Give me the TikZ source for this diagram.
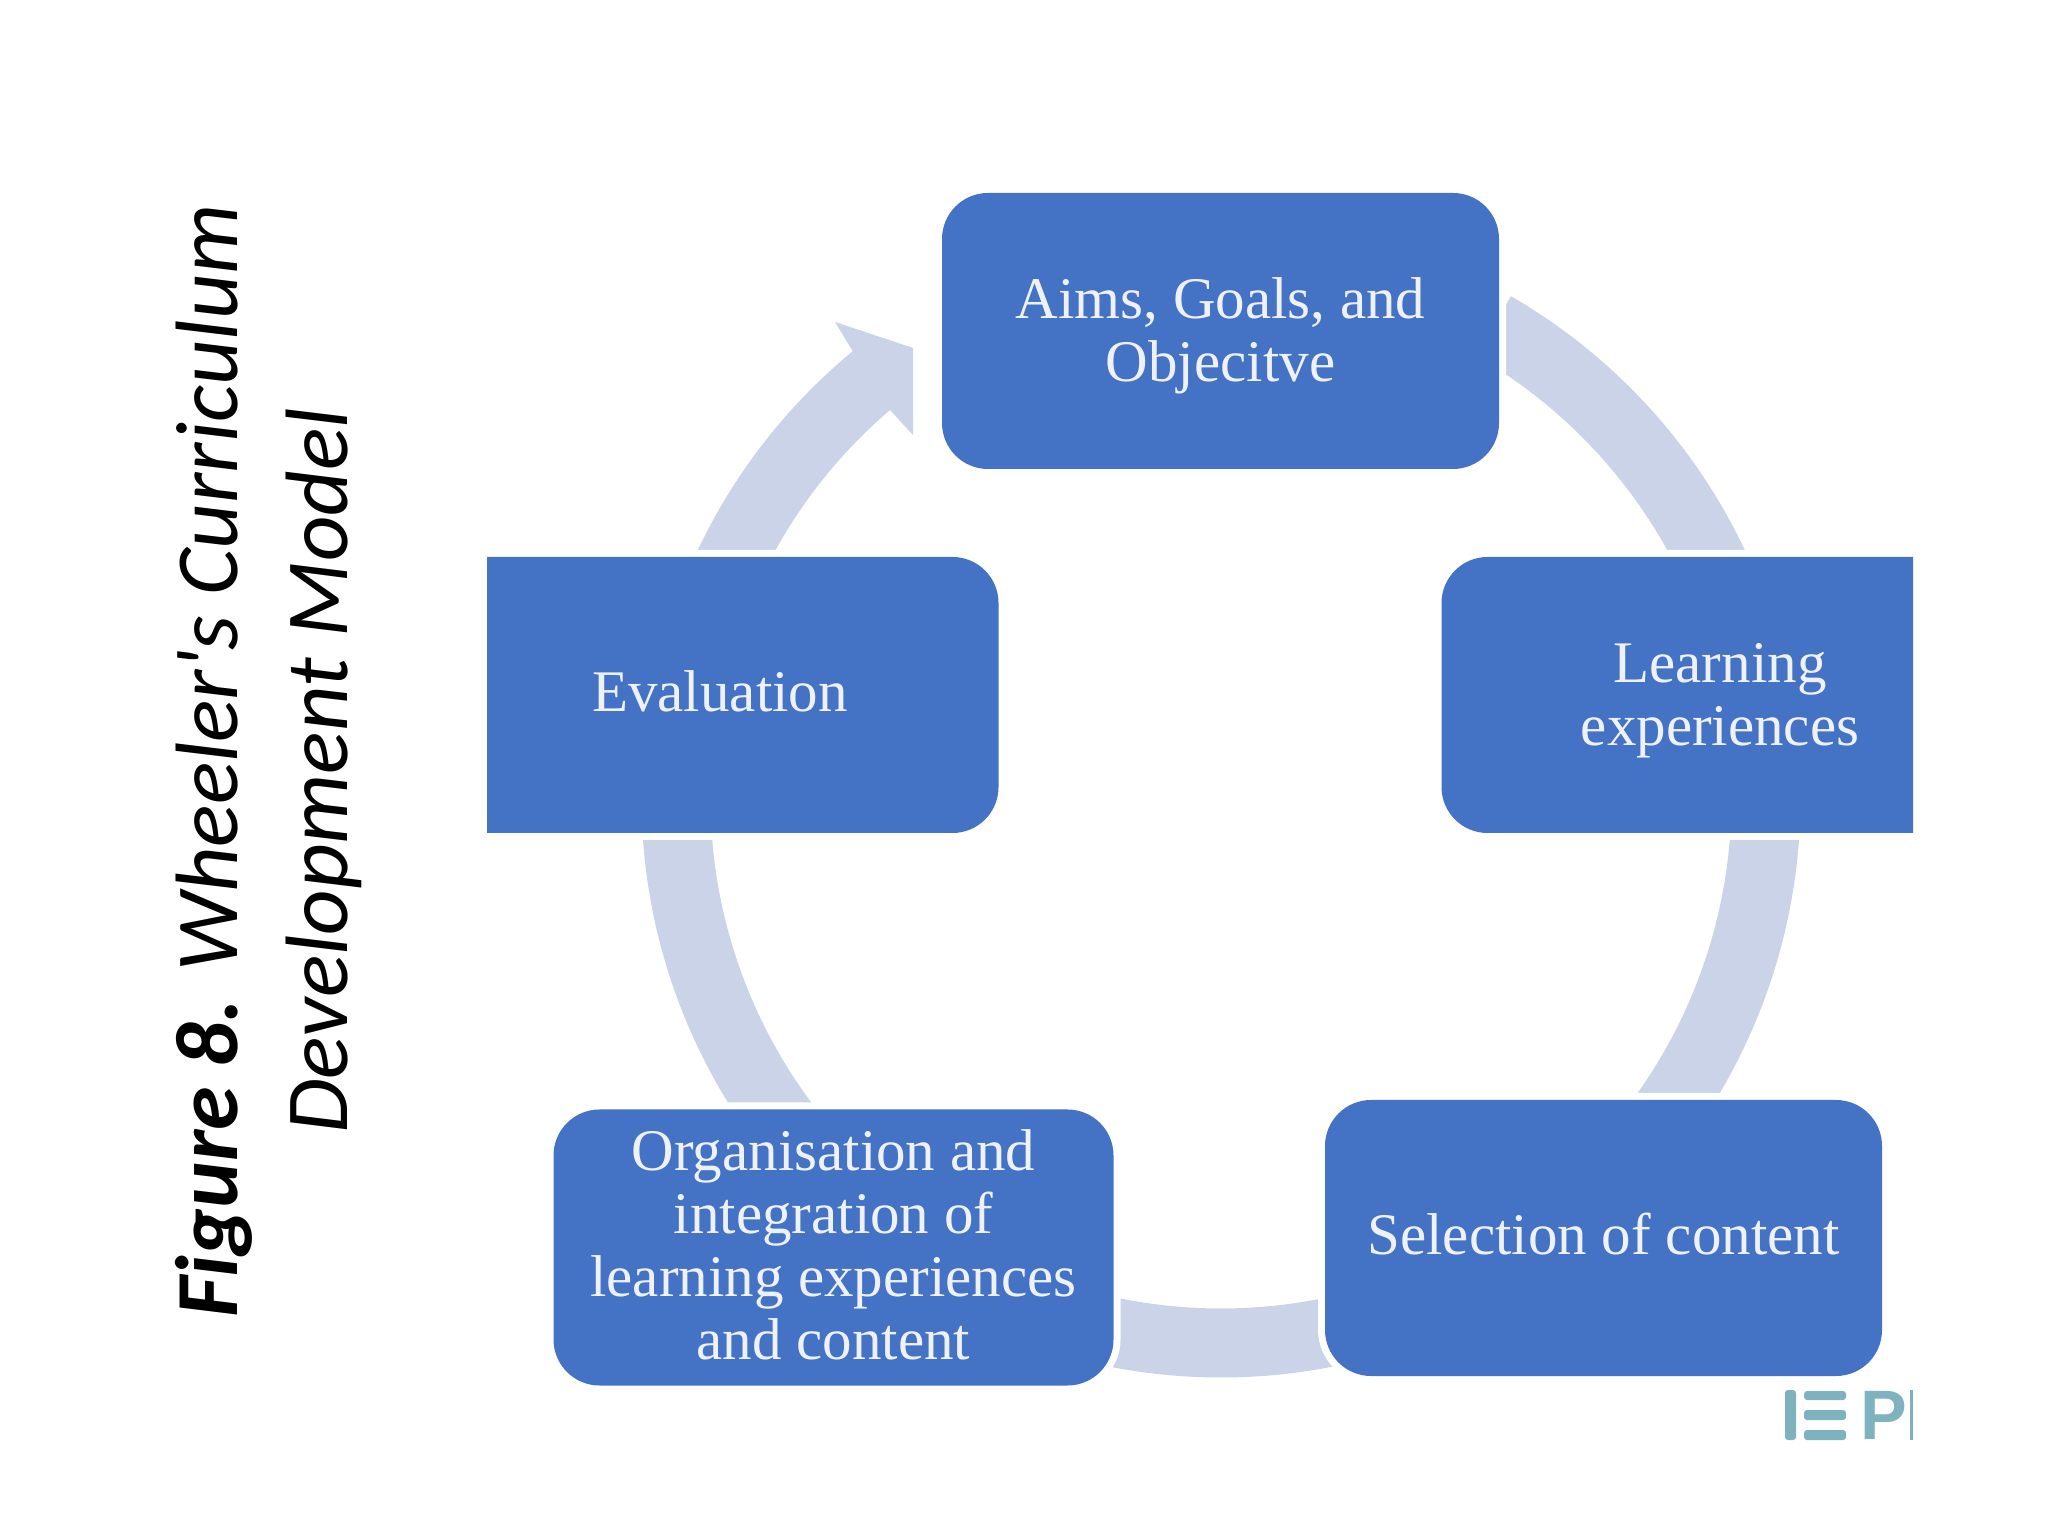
\documentclass[tikz,border=0pt]{standalone}
\usepackage{fontspec}
\setmainfont{Liberation Serif}
\newfontfamily\captionfam{Carlito}
\newfontfamily\logofam{Liberation Sans}
\usetikzlibrary{calc}
\definecolor{boxblue}{HTML}{4472C4}
\definecolor{ringblue}{HTML}{CBD3E8}
\definecolor{boxtext}{HTML}{EEF1F8}
\definecolor{logoteal}{HTML}{7FB2BF}
\newcommand{\tallline}{\rule{0pt}{25pt}}
\newcommand{\deepline}[1]{\rule[-#1]{0pt}{#1}}
\tikzset{
  stage/.style={fill=boxblue,rounded corners=23pt,minimum width=278.5pt,minimum height=138pt,
    text=boxtext,align=center,inner sep=0pt,font=\fontsize{29.5}{31.5}\selectfont,
    preaction={draw=white,line width=7pt}},
  ringarc/.style={draw=ringblue,line width=34.5pt},
  logobar/.style={fill=logoteal,draw=none,rounded corners=1.5pt}
}
\begin{document}
\begin{tikzpicture}[x=0.5pt,y=0.5pt]
\useasboundingbox (0,0) rectangle (2048,1536);
\fill[white] (0,0) rectangle (2048,1536);
\coordinate (c) at (1221,738);
\begin{scope}
\clip (487,0) rectangle (1913,1536);
% ring
\draw[ringarc] (c) ++(60:272.5pt) arc[start angle=60,end angle=20,radius=272.5pt];
\draw[ringarc] (c) ++(5:272.5pt) arc[start angle=5,end angle=-50,radius=272.5pt];
\draw[ringarc] (c) ++(-60:272.5pt) arc[start angle=-60,end angle=-120,radius=272.5pt];
\draw[ringarc] (c) ++(230:272.5pt) arc[start angle=230,end angle=175,radius=272.5pt];
\coordinate (barbA) at (835,1214);
\coordinate (tipA) at (913,1188);
\coordinate (tipB) at (913,1101);
\coordinate (barbB) at (890,1126);
\fill[ringblue] (c) ++(170:289.5pt) arc[start angle=170,end angle=129.5,radius=289.5pt]
  -- (barbA) -- (tipA) -- (tipB) -- (barbB)
  arc[start angle=130.5,end angle=170,radius=254.5pt] -- cycle;
% boxes
\node[stage] (aims) at (1220.5,1205) {\tallline Aims, Goals, and\\Objecitve};
\node[stage] (learn) at (1720,841) {\tallline Learning\\experiences};
\node[stage] (select) at (1603.5,298) {Selection of content\deepline{4pt}};
\node[stage,minimum width=280pt] (organ) at (833.5,288.5) {Organisation and\\integration of\\learning experiences\\and content\deepline{2.6pt}};
\node[stage] (eval) at (720,841) {Evaluation\deepline{4pt}};
% logo
\fill[logobar] (1785,96) rectangle (1796,146);
\fill[logobar] (1804,136) rectangle (1846,145);
\fill[logobar] (1804,116) rectangle (1846,126);
\fill[logobar] (1804,96) rectangle (1846,106);
\node[anchor=south west,inner sep=0pt,text=logoteal,font=\logofam\bfseries\fontsize{35}{35}\selectfont] (logop) at (1860,96) {P};
\fill[logoteal] (1910,96) rectangle (1913,146);
\end{scope}
% caption
\node[rotate=90,align=center,inner sep=0pt,font=\captionfam\fontsize{44.3}{55}\selectfont] (caption) at (269,765)
  {\hspace*{10pt}\textbf{\textit{Figure 8.}} \textit{Wheeler's Curriculum}\\\textit{Development Model}};
\end{tikzpicture}
\end{document}
